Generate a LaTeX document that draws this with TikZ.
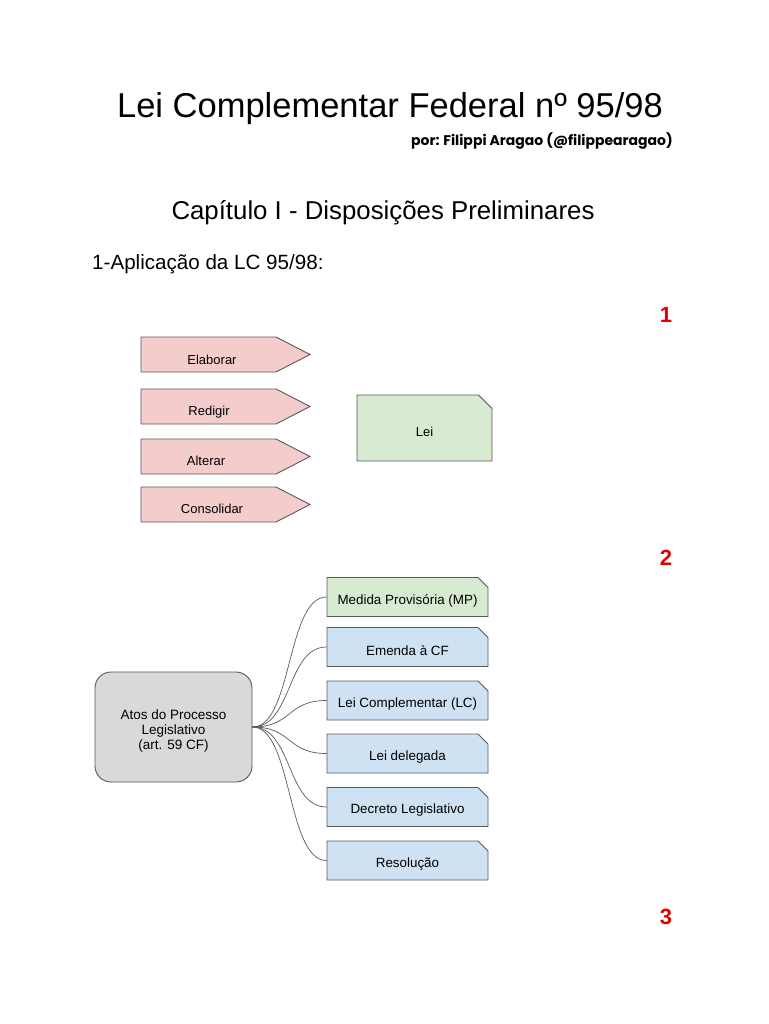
\documentclass[tikz,border=0pt]{standalone}
\usepackage{fontspec}
\setmainfont{Liberation Sans}
\newfontfamily\poppins{Poppins}
\usetikzlibrary{shapes.misc}
\definecolor{pinkfill}{HTML}{F4CCCC}
\definecolor{greenfill}{HTML}{D9EAD3}
\definecolor{bluefill}{HTML}{CFE2F3}
\definecolor{grayfill}{HTML}{D9D9D9}
\definecolor{edge}{HTML}{595959}
\definecolor{numred}{HTML}{E00000}
\newcommand{\dn}[1]{\raisebox{-3.5pt}[\height][\depth]{#1}}
\tikzset{
  arrowshape/.style={draw=edge, fill=pinkfill, line width=0.9pt},
  boxtext/.style={font=\fontsize{13}{15}\selectfont, inner sep=0pt},
  leibox/.style={chamfered rectangle, chamfered rectangle corners=north east,
    chamfered rectangle xsep=9pt, chamfered rectangle ysep=9pt,
    draw=edge, fill=greenfill, line width=0.9pt, inner sep=0pt,
    minimum width=135pt, minimum height=66pt, font=\fontsize{13}{15}\selectfont},
  kindbox/.style={chamfered rectangle, chamfered rectangle corners=north east,
    chamfered rectangle xsep=5pt, chamfered rectangle ysep=5pt,
    draw=edge, fill=bluefill, line width=0.9pt, inner sep=0pt,
    minimum width=161pt, minimum height=39pt, font=\fontsize{13.4}{15}\selectfont},
  mainbox/.style={draw=edge, fill=grayfill, rounded corners=16pt, line width=0.9pt,
    minimum width=157pt, minimum height=110pt, align=center,
    font=\fontsize{13.5}{15}\selectfont},
  conn/.style={draw=edge, line width=0.7pt},
  rednum/.style={text=numred, font=\bfseries\fontsize{22}{24}\selectfont},
}
\begin{document}
\begin{tikzpicture}[x=1pt,y=-1pt]
\useasboundingbox (0,0) rectangle (768,1024);
% titles
\node[anchor=base, font=\fontsize{34.5}{38}\selectfont] (title) at (390,118) {Lei Complementar Federal nº 95/98};
\node[anchor=base east, font=\poppins\bfseries\fontsize{14}{16}\selectfont, inner sep=0pt] (author) at (673,146) {por: Filippi Aragao (@filippearagao)};
\node[anchor=base, font=\fontsize{25.8}{30}\selectfont] (cap) at (383,219) {Capítulo I - Disposições Preliminares};
\node[anchor=base west, font=\fontsize{20.6}{24}\selectfont, inner sep=0pt] (sec1) at (92,269) {1-Aplicação da LC 95/98:};
% red numbers
\node[rednum] (n1) at (666,315) {1};
\node[rednum] (n2) at (666,558) {2};
\node[rednum] (n3) at (666,917) {3};
% section 1
\draw[arrowshape] (141,337) -- (276,337) -- (310,354.5) -- (276,372) -- (141,372) -- cycle;
\node[boxtext] (elab) at (212,360) {Elaborar};
\draw[arrowshape] (141,389) -- (276,389) -- (310,406.5) -- (276,424) -- (141,424) -- cycle;
\node[boxtext] (red) at (209,412) {Redigir};
\draw[arrowshape] (141,439) -- (276,439) -- (310,456.5) -- (276,474) -- (141,474) -- cycle;
\node[boxtext] (alt) at (206,461) {Alterar};
\draw[arrowshape] (141,487) -- (276,487) -- (310,504.5) -- (276,522) -- (141,522) -- cycle;
\node[boxtext] (cons) at (212,509) {Consolidar};
\node[leibox] (lei) at (424.5,428) {\dn{Lei}};
% section 2
\node[mainbox] (atos) at (173.5,727) {\dn{\parbox{150pt}{\centering Atos do Processo\\Legislativo\\(art. 59 CF)}}};
\node[kindbox, fill=greenfill] (mp) at (407.5,597) {\dn{Medida Provisória (MP)}};
\node[kindbox] (emenda) at (407.5,647) {\dn{Emenda à CF}};
\node[kindbox] (lc) at (407.5,700.5) {\dn{Lei Complementar (LC)}};
\node[kindbox] (deleg) at (407.5,753.5) {\dn{Lei delegada}};
\node[kindbox] (decr) at (407.5,807) {\dn{Decreto Legislativo}};
\node[kindbox] (resol) at (407.5,860.5) {\dn{Resolução}};
\foreach \t in {mp,emenda,lc,deleg,decr,resol}{
  \draw[conn] (atos.east) .. controls +(40,0) and +(-40,0) .. (\t.west);
}
\end{tikzpicture}
\end{document}
